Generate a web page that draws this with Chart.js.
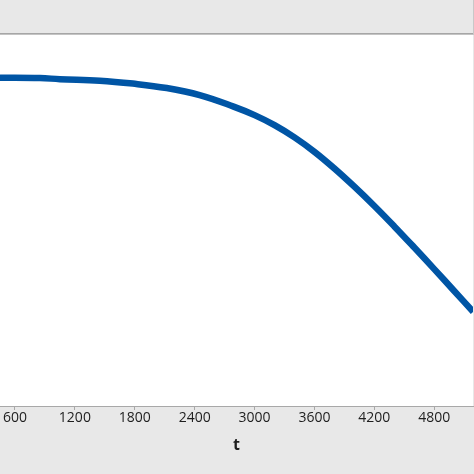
<!DOCTYPE html>
<html>
<head>
<meta charset="utf-8">
<script src="https://cdn.jsdelivr.net/npm/chart.js@4"></script>
<style>
  html, body { margin: 0; padding: 0; background: #e8e8e8; }
  canvas { display: block; }
</style>
</head>
<body>
<canvas id="plot" width="474" height="474"></canvas>
<script>
// values
const tValues = [450, 850, 1050, 1450, 1780, 2120, 2450, 2790, 3000, 3200, 3400, 3600, 3800, 4000, 4200, 4400, 4600, 4800, 5000, 5190];
const yValues = [0.885, 0.884, 0.881, 0.877, 0.869, 0.857, 0.838, 0.807, 0.784, 0.757, 0.724, 0.685, 0.640, 0.591, 0.539, 0.484, 0.427, 0.369, 0.310, 0.254];
const tickValues = [600, 1200, 1800, 2400, 3000, 3600, 4200, 4800];
const xLabel = 't';

// frame: grey panel, white data region, header rule
const framePlugin = {
    id: 'frame',
    beforeDraw(chart) {
        const { ctx, chartArea: a, width, height } = chart;
        ctx.save();
        ctx.fillStyle = '#e8e8e8';
        ctx.fillRect(0, 0, width, height);
        ctx.fillStyle = '#ffffff';
        ctx.fillRect(a.left, a.top, a.right - a.left, a.bottom - a.top);
        ctx.fillStyle = '#a6a6a6';
        ctx.fillRect(0, a.top - 2, width, 1);
        ctx.fillStyle = '#c4c4c4';
        ctx.fillRect(0, a.top - 1, width, 1);
        ctx.fillStyle = '#c8c8c8';
        ctx.fillRect(a.right, 0, 1, a.top);
        ctx.restore();
    }
};

const points = tValues.map((t, i) => ({ x: t, y: yValues[i] }));

new Chart(document.getElementById('plot'), {
    type: 'line',
    data: {
        datasets: [{
            data: points,
            borderColor: '#0055a5',
            borderWidth: 6.5,
            pointRadius: 0,
            tension: 0.4,
            fill: false
        }]
    },
    options: {
        responsive: false,
        animation: false,
        layout: { padding: { top: 35, right: 1, left: 0, bottom: 0 } },
        plugins: { legend: { display: false }, tooltip: { enabled: false } },
        scales: {
            x: {
                type: 'linear',
                min: 450,
                max: 5188,
                afterBuildTicks: (scale) => { scale.ticks = tickValues.map(v => ({ value: v })); },
                afterFit: (scale) => { scale.height = 68; },
                grid: { drawOnChartArea: false, drawTicks: true, tickLength: 4, color: '#a8a8a8' },
                border: { display: true, color: '#a8a8a8', width: 1 },
                ticks: {
                    padding: 0,
                    color: '#1e1e1e',
                    maxRotation: 0,
                    autoSkip: false,
                    font: { family: 'Open Sans', size: 14 },
                    callback: (v) => String(v)
                },
                title: {
                    display: true,
                    text: xLabel,
                    color: '#1e1e1e',
                    font: { family: 'Open Sans', size: 16, weight: 'bold' },
                    padding: { top: 0, bottom: 19 }
                }
            },
            y: {
                display: false,
                min: 0,
                max: 1
            }
        }
    },
    plugins: [framePlugin]
});
</script>
</body>
</html>
